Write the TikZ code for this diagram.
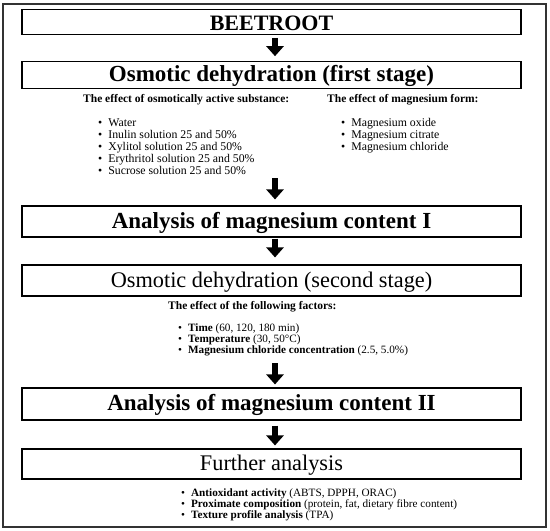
\documentclass[tikz,border=0pt]{standalone}
\usepackage{fontspec}
\setmainfont{Liberation Serif}
\usetikzlibrary{arrows.meta}
\begin{document}
\begin{tikzpicture}[x=1pt,y=-1pt,
  titlebox/.style={draw=black, line width=1.1pt, minimum width=499pt, inner sep=0pt, text height=15.2pt, text depth=1.6pt},
  bigarr/.style={line width=6.5pt, -{Triangle[width=17pt,length=10pt]}},
  hdr/.style={anchor=west, inner sep=0pt, font=\fontsize{11.5}{12}\selectfont\bfseries},
  lst/.style={anchor=north west, inner sep=0pt, align=left},
]
\useasboundingbox (0,0) rectangle (550,531);
\node[draw=black!80, line width=1.1pt, minimum width=543pt, minimum height=523pt, inner sep=0pt] (frame) at (274.5,265.5) {};
\node[titlebox, minimum height=25pt, text height=16.6pt, text depth=0pt, font=\fontsize{22}{24}\selectfont\bfseries] (b1) at (271.5,21.8) {BEETROOT};
\node[titlebox, minimum height=26.5pt, font=\fontsize{23}{24}\selectfont\bfseries] (b2) at (271.5,75) {Osmotic dehydration (first stage)};
\node[titlebox, minimum height=31pt, font=\fontsize{23}{24}\selectfont\bfseries] (b3) at (271.5,221.5) {Analysis of magnesium content I};
\node[titlebox, minimum height=31pt, text height=14.8pt, font=\fontsize{22.3}{24}\selectfont] (b4) at (271.5,280.5) {Osmotic dehydration (second stage)};
\node[titlebox, minimum height=32pt, font=\fontsize{23}{24}\selectfont\bfseries] (b5) at (271.5,404) {Analysis of magnesium content II};
\node[titlebox, minimum height=30pt, text height=14.8pt, font=\fontsize{22.3}{24}\selectfont] (b6) at (271.5,464) {Further analysis};

\node[hdr] (h1) at (83,100) {The effect of osmotically active substance:};
\node[hdr] (h2) at (327,100) {The effect of magnesium form:};
\node[lst, font=\fontsize{11.8}{12}\selectfont] (l1) at (98,118.5) {\textbullet\hspace{6pt}Water\\
\textbullet\hspace{6pt}Inulin solution 25 and 50\%\\
\textbullet\hspace{6pt}Xylitol solution 25 and 50\%\\
\textbullet\hspace{6pt}Erythritol solution 25 and 50\%\\
\textbullet\hspace{6pt}Sucrose solution 25 and 50\%};
\node[lst, font=\fontsize{11.8}{12}\selectfont] (l2) at (341,118.5) {\textbullet\hspace{6pt}Magnesium oxide\\
\textbullet\hspace{6pt}Magnesium citrate\\
\textbullet\hspace{6pt}Magnesium chloride};

\node[hdr] (h3) at (168,306.5) {The effect of the following factors:};
\node[lst, font=\fontsize{11.2}{11.2}\selectfont] (l3) at (178,323.5) {\textbullet\hspace{6pt}\textbf{Time} (60, 120, 180 min)\\
\textbullet\hspace{6pt}\textbf{Temperature} (30, 50\textdegree C)\\
\textbullet\hspace{6pt}\textbf{Magnesium chloride concentration} (2.5, 5.0\%)};

\node[lst, font=\fontsize{11.2}{10.8}\selectfont] (l4) at (181,488.5) {\textbullet\hspace{6pt}\textbf{Antioxidant activity} (ABTS, DPPH, ORAC)\\
\textbullet\hspace{6pt}\textbf{Proximate composition} (protein, fat, dietary fibre content)\\
\textbullet\hspace{6pt}\textbf{Texture profile analysis} (TPA)};

\coordinate (c2) at (275,178);
\coordinate (c4) at (275,363);
\draw[bigarr, shorten <=3pt, shorten >=5pt] ([xshift=3.5pt]b1.south) -- ([xshift=3.5pt]b2.north);
\draw[bigarr, shorten >=6pt] (c2) -- (c2 |- b3.north);
\draw[bigarr, shorten <=1pt, shorten >=7pt] ([xshift=3.5pt]b3.south) -- ([xshift=3.5pt]b4.north);
\draw[bigarr, shorten >=3pt] (c4) -- (c4 |- b5.north);
\draw[bigarr, shorten <=5pt, shorten >=3pt] ([xshift=3.5pt]b5.south) -- ([xshift=3.5pt]b6.north);
\end{tikzpicture}
\end{document}
